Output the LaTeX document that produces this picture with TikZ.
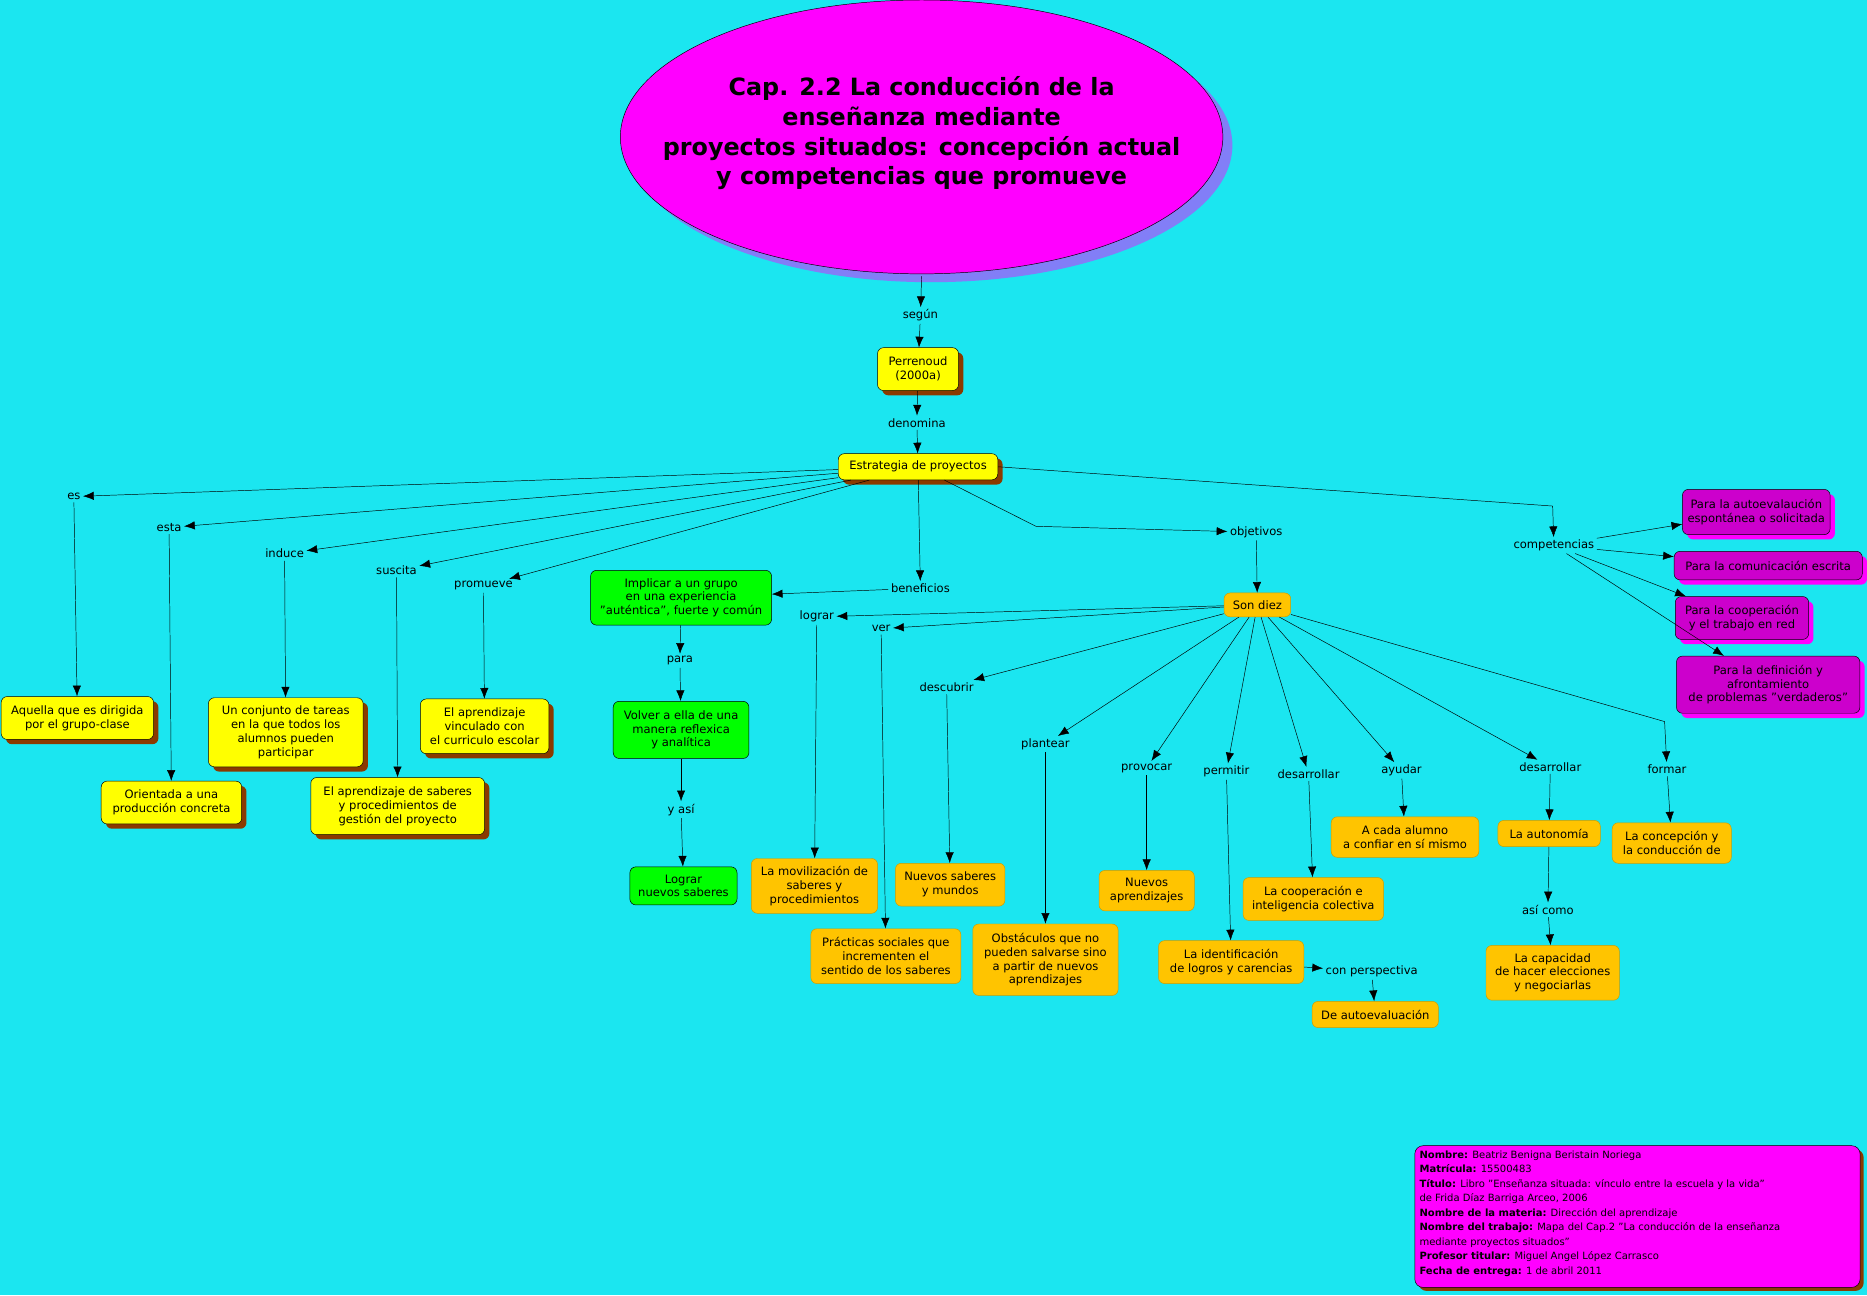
\documentclass[tikz,border=0pt]{standalone}
\usepackage{fontspec}
\setmainfont{DejaVu Sans}
\usetikzlibrary{shapes.geometric,arrows.meta,shadows}

\definecolor{bgcyan}{HTML}{1BE6F0}
\definecolor{boxyellow}{HTML}{FFFF00}
\definecolor{boxgreen}{HTML}{00FF00}
\definecolor{boxorange}{HTML}{FFC400}
\definecolor{boxpurple}{HTML}{CC00CC}
\definecolor{titlepink}{HTML}{FF00FF}
\definecolor{shadowbrown}{HTML}{8B3A00}

\tikzset{
  concept/.style={draw=black, rounded corners=5pt, align=center, font=\fontsize{9.7}{11.6}\selectfont, inner sep=0pt},
  yellowbox/.style={concept, fill=boxyellow, drop shadow={shadow xshift=4pt, shadow yshift=-4pt, fill=shadowbrown, opacity=1}},
  purplebox/.style={concept, fill=boxpurple, drop shadow={shadow xshift=4pt, shadow yshift=-4pt, fill=titlepink, opacity=1}},
  greenbox/.style={concept, fill=boxgreen},
  orangebox/.style={concept, fill=boxorange, draw=boxorange!80!black},
  link/.style={font=\fontsize{9.7}{11.6}\selectfont, inner sep=2pt},
  arr/.style={-{Latex[length=9pt,width=7pt]}, black}
}

\begin{document}
\begin{tikzpicture}[x=1pt, y=-1pt]

% background
\fill[bgcyan] (0,0) rectangle (1568,1088);
\useasboundingbox (0,0) rectangle (1568,1088);

% title
\fill[titlepink!45!bgcyan] (782,122) ellipse (253 and 115);
\draw[fill=titlepink] (774,115) ellipse (253 and 115);
\node[align=center, font=\bfseries\fontsize{20}{25}\selectfont] (title) at (774,112)
  {Cap. 2.2 La conducción de la\\ enseñanza mediante\\ proyectos situados: concepción actual\\ y competencias que promueve};
\coordinate (titlebot) at (774,232);

% main chain
\node[link] (segun) at (773,265) {según};
\node[yellowbox, minimum width=68pt, minimum height=36pt] (perrenoud) at (771,310) {Perrenoud\\ (2000a)};
\node[link] (denomina) at (770,355) {denomina};
\node[yellowbox, minimum width=134pt, minimum height=22pt] (estrategia) at (771,392) {Estrategia de proyectos};

% first level links
\node[link] (es) at (62,417) {es};
\node[link] (esta) at (142,443) {esta};
\node[link] (induce) at (239,465) {induce};
\node[link] (suscita) at (333,479) {suscita};
\node[link] (promueve) at (406,492) {promueve};
\node[link] (beneficios) at (773,494) {beneficios};
\node[link] (objetivos) at (1055,447) {objetivos};
\node[link] (competencias) at (1305,458) {competencias};

% yellow concepts
\node[yellowbox, minimum width=128pt, minimum height=36pt] (aquella) at (65,603) {Aquella que es dirigida\\ por el grupo-clase};
\node[yellowbox, minimum width=118pt, minimum height=36pt] (orientada) at (144,674) {Orientada a una\\ producción concreta};
\node[yellowbox, minimum width=130pt, minimum height=58pt] (conjunto) at (240,615) {Un conjunto de tareas\\ en la que todos los\\ alumnos pueden\\ participar};
\node[yellowbox, minimum width=108pt, minimum height=46pt] (vinculado) at (407,610) {El aprendizaje\\ vinculado con\\ el curriculo escolar};
\node[yellowbox, minimum width=146pt, minimum height=48pt] (saberes) at (334,677) {El aprendizaje de saberes\\ y procedimientos de\\ gestión del proyecto};

% green chain
\node[greenbox, minimum width=152pt, minimum height=46pt] (implicar) at (572,502) {Implicar a un grupo\\ en una experiencia\\ "auténtica", fuerte y común};
\node[link] (para) at (571,555) {para};
\node[greenbox, minimum width=114pt, minimum height=48pt] (volver) at (572,613) {Volver a ella de una\\ manera reflexica\\ y analítica};
\node[link] (yasi) at (572,680) {y así};
\node[greenbox, minimum width=90pt, minimum height=32pt] (lograrsab) at (574,744) {Lograr\\ nuevos saberes};

% objetivos
\node[orangebox, minimum width=56pt, minimum height=20pt] (sondiez) at (1056,508) {Son diez};
\node[link] (lograr) at (686,518) {lograr};
\node[link] (ver) at (740,528) {ver};
\node[link] (descubrir) at (795,577) {descubrir};
\node[link] (plantear) at (878,625) {plantear};
\node[link] (provocar) at (963,645) {provocar};
\node[link] (permitir) at (1030,648) {permitir};
\node[link] (desarrollarA) at (1099,650) {desarrollar};
\node[link] (ayudar) at (1177,647) {ayudar};
\node[link] (desarrollarB) at (1302,644) {desarrollar};
\node[link] (formar) at (1400,646) {formar};

\node[orangebox, minimum width=106pt, minimum height=46pt] (movilizacion) at (684,744) {La movilización de\\ saberes y\\ procedimientos};
\node[orangebox, minimum width=126pt, minimum height=46pt] (practicas) at (744,803) {Prácticas sociales que\\ incrementen el\\ sentido de los saberes};
\node[orangebox, minimum width=92pt, minimum height=36pt] (nuevossab) at (798,743) {Nuevos saberes\\ y mundos};
\node[orangebox, minimum width=122pt, minimum height=60pt] (obstaculos) at (878,806) {Obstáculos que no\\ pueden salvarse sino\\ a partir de nuevos\\ aprendizajes};
\node[orangebox, minimum width=80pt, minimum height=34pt] (nuevosapr) at (963,748) {Nuevos\\ aprendizajes};
\node[orangebox, minimum width=122pt, minimum height=36pt] (identificacion) at (1034,808) {La identificación\\ de logros y carencias};
\node[link] (perspectiva) at (1152,816) {con perspectiva};
\node[orangebox, minimum width=106pt, minimum height=22pt] (autoeval) at (1155,852) {De autoevaluación};
\node[orangebox, minimum width=118pt, minimum height=36pt] (cooperacion) at (1103,755) {La cooperación e\\ inteligencia colectiva};
\node[orangebox, minimum width=124pt, minimum height=34pt] (cadaalumno) at (1180,703) {A cada alumno\\ a confiar en sí mismo};
\node[orangebox, minimum width=86pt, minimum height=22pt] (autonomia) at (1301,700) {La autonomía};
\node[link] (asicomo) at (1300,764) {así como};
\node[orangebox, minimum width=112pt, minimum height=46pt] (capacidad) at (1304,817) {La capacidad\\ de hacer elecciones\\ y negociarlas};
\node[orangebox, minimum width=100pt, minimum height=34pt] (concepcion) at (1404,708) {La concepción y\\ la conducción de};

% competencias
\node[purplebox, minimum width=124pt, minimum height=38pt] (compA) at (1475,430) {Para la autoevalaución\\ espontánea o solicitada};
\node[purplebox, minimum width=158pt, minimum height=24pt] (compB) at (1485,475) {Para la comunicación escrita};
\node[purplebox, minimum width=112pt, minimum height=36pt] (compC) at (1463,519) {Para la cooperación\\ y el trabajo en red};
\node[purplebox, minimum width=154pt, minimum height=48pt] (compD) at (1485,575) {Para la definición y\\ afrontamiento\\ de problemas "verdaderos"};

% info box
\node[concept, fill=titlepink, rounded corners=7pt, anchor=north west, inner sep=4pt,
  drop shadow={shadow xshift=3pt, shadow yshift=-3pt, fill=shadowbrown, opacity=1}] (info) at (1188,962)
  {\begin{minipage}[t][111pt][t]{366pt}\raggedright\fontsize{8.4}{12.2}\selectfont
   \textbf{Nombre:} Beatriz Benigna Beristain Noriega\\
   \textbf{Matrícula:} 15500483\\
   \textbf{Título:} Libro "Enseñanza situada: vínculo entre la escuela y la vida"\\
   de Frida Díaz Barriga Arceo, 2006\\
   \textbf{Nombre de la materia:} Dirección del aprendizaje\\
   \textbf{Nombre del trabajo:} Mapa del Cap.2 "La conducción de la enseñanza\\
   mediante proyectos situados"\\
   \textbf{Profesor titular:} Miguel Angel López Carrasco\\
   \textbf{Fecha de entrega:} 1 de abril 2011\end{minipage}};

% connectors
\draw[arr] (titlebot) -- (segun);
\draw[arr] (segun) -- (perrenoud);
\draw[arr] (perrenoud) -- (denomina);
\draw[arr] (denomina) -- (estrategia);
\foreach \t in {es,esta,induce,suscita,promueve,beneficios}
  \draw[arr] (estrategia) -- (\t);
\draw[arr] (estrategia) -- (870,442) -- (objetivos);
\draw[arr] (estrategia.east) -- (1304,425) -- (competencias);
\draw[arr] (es) -- (aquella);
\draw[arr] (esta) -- (orientada);
\draw[arr] (induce) -- (conjunto);
\draw[arr] (suscita) -- (saberes);
\draw[arr] (promueve) -- (vinculado);
\draw[arr] (beneficios) -- (implicar);
\draw[arr] (implicar) -- (para);
\draw[arr] (para) -- (volver);
\draw[arr] (volver) -- (yasi);
\draw[arr] (yasi) -- (lograrsab);
\draw[arr] (objetivos) -- (sondiez);
\foreach \t in {lograr,ver,descubrir,plantear,provocar,permitir,desarrollarA,ayudar,desarrollarB}
  \draw[arr] (sondiez) -- (\t);
\draw[arr] (sondiez) -- (1398,606) -- (formar);
\draw[arr] (lograr) -- (movilizacion);
\draw[arr] (ver) -- (practicas);
\draw[arr] (descubrir) -- (nuevossab);
\draw[arr] (plantear) -- (obstaculos);
\draw[arr] (provocar) -- (nuevosapr);
\draw[arr] (permitir) -- (identificacion);
\draw[arr] (identificacion) -- (perspectiva);
\draw[arr] (perspectiva) -- (autoeval);
\draw[arr] (desarrollarA) -- (cooperacion);
\draw[arr] (ayudar) -- (cadaalumno);
\draw[arr] (desarrollarB) -- (autonomia);
\draw[arr] (autonomia) -- (asicomo);
\draw[arr] (asicomo) -- (capacidad);
\draw[arr] (formar) -- (concepcion);
\draw[arr] (competencias) -- (compA);
\draw[arr] (competencias) -- (compB);
\draw[arr] (competencias) -- (compC);
\draw[arr] (competencias) -- (compD);

\end{tikzpicture}
\end{document}
